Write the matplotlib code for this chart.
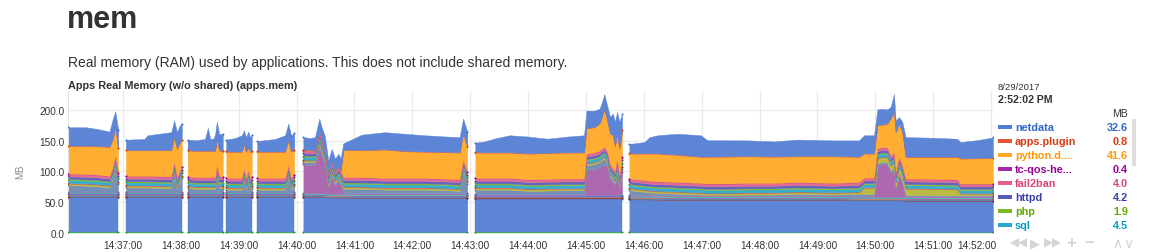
import numpy as np
import matplotlib
matplotlib.use("Agg")
import matplotlib.pyplot as plt
import matplotlib.transforms as mtransforms
from matplotlib.colors import to_rgb

plt.rcParams['font.family'] = ['Liberation Sans', 'DejaVu Sans']

# ---------------- data (seconds after 14:36:00) ----------------
t_sec = [
    3, 22, 34, 46, 49, 52, 55,
    63, 82, 85.5, 103, 110, 113, 116, 118.5, 121,
    127, 135, 145, 148, 150.5, 154, 155.5, 157.3, 159.7, 163.5,
    167, 176, 183, 185.5, 187.3, 190, 191.7, 193.5,
    199, 217.6, 228, 231.4, 234.2, 237.6,
    247, 254, 259, 263.5, 266, 269.4, 272.8, 276.4, 279.8, 283.2, 285.7,
    288.4, 295.3, 307.4, 331.5, 352.2, 372.9, 395, 409, 412.6, 417,
    425.3, 435, 447, 461, 480, 500, 521, 538, 540.5, 549, 554, 556, 559,
    562, 565, 568, 570, 572.3, 574.5, 577.5,
    585, 600.6, 605.8, 614.4, 635, 659, 666, 678, 707.6, 735, 759, 797,
    823, 828.3, 838.6, 842.1, 847.2, 852.4, 855.9, 859.3, 861.1, 864.5,
    867.9, 871.4, 900, 924.9, 928.3, 945, 962,
]
seg_id = [0] * 7 + [1] * 9 + [2] * 10 + [3] * 8 + [4] * 6 + [5] * 21 + [6] * 20 + [7] * 29

base_blue = (
    [56.8] * 7 + [56.8] * 9 + [56.8] * 10 + [56.8] * 8 + [56.8] * 6
    + [56.8, 56.8, 56.8, 56.8, 56.8, 56.5, 56, 56, 56, 56, 56, 55.8, 55.5,
       55.2, 55.2, 55.2, 55.2, 55.2, 55.2, 55.2, 55.2]
    + [54.1] * 20
    + [53, 53, 53, 52.5, 52, 52, 52, 52, 52, 52, 52, 52] + [51.4] * 11 + [50.5] * 6
)
gray_blue = [
    11.7, 11, 10, 8, 21, 41, 13,
    8, 8, 8, 7.5, 7, 30.7, 6, 16, 22.6,
    7, 6, 6, 6, 6, 6, 6, 26, 8, 6,
    4.6, 4.6, 4.6, 20, 4.6, 17, 4, 6,
    4.6, 4.6, 4.6, 25, 5, 10,
    4.1, 4.3, 4.1, 6.5, 5.5, 4.8, 4.3, 4.3, 4.3, 4.3, 4.3, 7, 7.3, 7.6, 6.2,
    6.2, 6.2, 5.1, 4.1, 35.6, 16,
    7.3, 7.3, 7.3, 7.3, 5.2, 5.7, 6.3, 6.3, 6.2, 8.2, 8.2, 8.2, 9.2, 6.2, 5.2,
    4.2, 4.2, 5.2, 4.2, 5.2,
    7.4, 4.8, 3.8, 3.5, 2.8, 1.3, 0.5, 0.5, 1.3, 1.3, 2.8, 1.3, 3.4, 2.9, 2.9,
    3.4, 3.4, 3.4, 3.4, 3.4, 3.4, 3.1, 3.4, 2.4, 1.8, 1.3, 1.8, 1.8, 1.8,
]
mauve = (
    [1.5] * 40
    + [47, 46, 47, 75, 62, 47, 10, 29, 13, 21, 14] + [1.5] * 10
    + [1.5] * 8 + [42, 42, 45, 48, 50, 46, 25, 20, 16, 35, 9, 37]
    + [1.5] * 15 + [50, 53, 52, 39, 44, 12, 37, 23] + [1.5] * 6
)
olive = [2.5] * 81 + [2.5] * 13 + [10, 10] + [8] * 8 + [10, 10, 10] + [2.5] * 3
python_d = [
    44.8, 45.5, 46, 47, 45, 45, 40,
    41.5, 41.5, 41.5, 42, 42.5, 40.3, 46, 45, 43.1,
    42, 42.5, 42.5, 42.5, 42.5, 42.5, 42.5, 42, 41, 42,
    42.4, 42.4, 42.4, 39, 42.4, 37, 43, 41,
    42.4, 42.4, 42.4, 41, 42, 39.5,
    0, 0, 0, 0, 0, 0, 0, 0, 0, 0, 0, 43.5, 44, 43.5, 46, 43.4, 42.4, 43, 43.2, 42, 40.6,
    41.1, 41.1, 41.1, 41.1, 41.5, 42, 42.1, 42.1, 41, 41, 44, 49, 61, 50, 50,
    54, 40, 40, 43, 44,
    40.4, 43, 44, 44.8, 44, 42.2, 43.2, 43.2, 43.3, 42.5, 41.8, 43.3, 40.7, 39,
    39, 38, 36, 38.8, 60, 66, 65, 54.1, 54, 35.1, 35.7, 36.2, 40.5, 41, 41.6,
]
netdata = [
    29.7, 29.7, 27.2, 24.2, 31.2, 26.2, 29.2,
    16.5, 17.7, 23.7, 27.3, 28.7, 26.2, 26.2, 27.2, 26.5,
    17.2, 16.7, 18.7, 36.7, 18.7, 19.7, 26.7, 27.2, 26.2, 27.2,
    19.2, 21.7, 26, 22.2, 23.2, 25.2, 23.2, 26,
    16.8, 20.2, 26.2, 26.2, 26.2, 27.3,
    20.6, 20, 20.6, 20.2, 20.2, 21.2, 20.2, 20.2, 20.2, 20.2, 20.2, 10.7, 15.2,
    24.7, 27.6, 27.7, 26.2, 24.7, 24.5, 24.2, 24.2,
    15.5, 17.5, 23, 27.5, 27.2, 22.6, 25.5, 27.5, 28.2, 26.2, 23.2, 23.2, 24.2,
    23.2, 27.2, 34.2, 39.2, 35.2, 43.2, 26.2,
    15.2, 18.2, 26.2, 29.2, 33.7, 34.5, 26.2, 26.2, 25.1, 24.2, 26.4, 25.1, 26.2,
    29.2, 29.2, 25.2, 25.2, 22.4, 18.2, 28.2, 18.2, 10, 16.2, 31.5, 30.5, 28.9,
    26.2, 28.7, 32.6,
]
# near-constant small dimensions (MB)
green_bottom = 1.5
low_dims = [0.7, 2.0, 0.5, 1.0, 1.8]          # hidden dims below the purple one
mid_dims = [1.2, 4.5, 1.9, 4.2, 4.0, 0.4]     # hidden dim, sql, php, httpd, fail2ban, tc-qos-helper
apps_plugin = 0.8

legend_names = ['netdata', 'apps.plugin', 'python.d....', 'tc-qos-he...',
                'fail2ban', 'httpd', 'php', 'sql']
legend_values = ['32.6', '0.8', '41.6', '0.4', '4.0', '4.2', '1.9', '4.5']
tick_secs = [60, 120, 180, 240, 300, 360, 420, 480, 540, 600, 660, 720, 780, 840, 900, 960]
tick_labels = ['14:37:00', '14:38:00', '14:39:00', '14:40:00', '14:41:00', '14:42:00',
               '14:43:00', '14:44:00', '14:45:00', '14:46:00', '14:47:00', '14:48:00',
               '14:49:00', '14:50:00', '14:51:00', '14:52:00']
y_ticks = [0, 50, 100, 150, 200]

# ---------------- styling ----------------
legend_colors = ['#3366CC', '#DC3912', '#FF9900', '#990099', '#DD4477', '#3B3EAC', '#66AA00', '#0099C6']
low_colors = ['#8B0707', '#316395', '#E67300', '#6633CC', '#22AA99']
mid_colors = ['#B82E2E', '#0099C6', '#66AA00', '#3B3EAC', '#DD4477', '#990099']


def soft(c, a=0.8):
    r = np.array(to_rgb(c))
    return tuple(r * a + (1 - a))


t = np.array(t_sec, dtype=float)
seg = np.array(seg_id)
N = len(t)

layers = [(np.full(N, green_bottom), '#109618'),
          (np.array(base_blue), '#3366CC')]
for v, c in zip(low_dims, low_colors):
    layers.append((np.full(N, v), c))
layers.append((np.array(mauve), '#994499'))
layers.append((np.array(gray_blue), '#5574A6'))
layers.append((np.array(olive), '#AAAA11'))
for v, c in zip(mid_dims, mid_colors):
    layers.append((np.full(N, v), c))
layers.append((np.array(python_d), '#FF9900'))
layers.append((np.full(N, apps_plugin), '#DC3912'))
layers.append((np.array(netdata), '#3366CC'))

W, H = 1151, 253
fig = plt.figure(figsize=(W / 100, H / 100), dpi=100)
ax = fig.add_axes([68 / W, (H - 234) / H, (993 - 68) / W, (234 - 92) / H])

for s in np.unique(seg):
    idx = np.where(seg == s)[0]
    tt = t[idx]
    cum = np.zeros(len(idx))
    for vals, c in layers:
        top = cum + vals[idx]
        ax.fill_between(tt, cum, top, facecolor=soft(c), edgecolor=soft(c),
                        linewidth=0.3, zorder=2)
        ax.scatter([tt[0], tt[-1]], [top[0], top[-1]], s=2, color=c,
                   linewidths=0, zorder=3)
        cum = top

ax.set_xlim(3, 962)
ax.set_ylim(0, 230.3)
ax.set_xticks(tick_secs)
ax.set_xticklabels(tick_labels)
ax.set_yticks(y_ticks)
ax.set_yticklabels([f'{v:.1f}' for v in y_ticks])
ax.tick_params(axis='both', length=0, labelsize=7.2, colors='#333333')
ax.tick_params(axis='x', pad=5)
ax.tick_params(axis='y', pad=2.5)
last = ax.get_xticklabels()[-1]
last.set_ha('right')
last.set_transform(last.get_transform() + mtransforms.ScaledTranslation(5 / 100, 0, fig.dpi_scale_trans))
ax.grid(True, color='#ebebeb', linewidth=0.9, zorder=0)
ax.set_axisbelow(True)
for name, sp in ax.spines.items():
    sp.set_visible(False)
ax.spines['left'].set_visible(True)
ax.spines['left'].set_color('#e0e0e0')


def fx(x):
    return x / W


def fy(y):
    return 1 - y / H


fig.text(fx(67), fy(28), 'mem', fontsize=22, fontweight='bold', color='#333333', va='baseline')
fig.text(fx(68), fy(63), 'Real memory (RAM) used by applications. This does not include shared memory.',
         fontsize=10.0, color='#333333', va='center')
fig.text(fx(68), fy(86), 'Apps Real Memory (w/o shared) (apps.mem)', fontsize=7.8,
         fontweight='bold', color='#333333', va='center')
fig.text(fx(20), fy(172), 'MB', fontsize=7, color='#888888', rotation=90, ha='center', va='center')

# legend panel
fig.text(fx(998), fy(88), '8/29/2017', fontsize=6.8, color='#333333', va='center')
fig.text(fx(998), fy(100), '2:52:02 PM', fontsize=7.6, fontweight='bold', color='#333333', va='center')
fig.text(fx(1128), fy(114), 'MB', fontsize=7.6, color='#333333', ha='right', va='center')
for i, (nm, val, c) in enumerate(zip(legend_names, legend_values, legend_colors)):
    y = 128 + i * 14.05
    fig.patches.append(plt.Rectangle((fx(998), fy(y + 1.7)), 13.5 / W, 3.6 / H,
                                     transform=fig.transFigure, facecolor=soft(c, 0.85),
                                     edgecolor='none'))
    fig.text(fx(1015), fy(y), nm, fontsize=7.8, fontweight='bold', color=c, va='center')
    fig.text(fx(1128), fy(y), val, fontsize=7.8, fontweight='bold', color=c, ha='right', va='center')

fig.patches.append(plt.Rectangle((fx(1132), fy(167)), 4 / W, 47 / H,
                                 transform=fig.transFigure, facecolor='#dddddd', edgecolor='none'))
icon_kw = dict(color='#d5d5d5', ha='center', va='center')
fig.text(fx(1019), fy(244), '◀◀', fontsize=8.5, **icon_kw)
fig.text(fx(1035), fy(244), '▶', fontsize=9.5, **icon_kw)
fig.text(fx(1053), fy(244), '▶▶', fontsize=8.5, **icon_kw)
fig.text(fx(1071), fy(244), '+', fontsize=12, fontweight='bold', **icon_kw)
fig.text(fx(1089), fy(244), '−', fontsize=12, fontweight='bold', **icon_kw)
fig.text(fx(1117), fy(244), '∧', fontsize=10, **icon_kw)
fig.text(fx(1128), fy(244), '∨', fontsize=10, **icon_kw)

fig.savefig('out.png', dpi=100)
